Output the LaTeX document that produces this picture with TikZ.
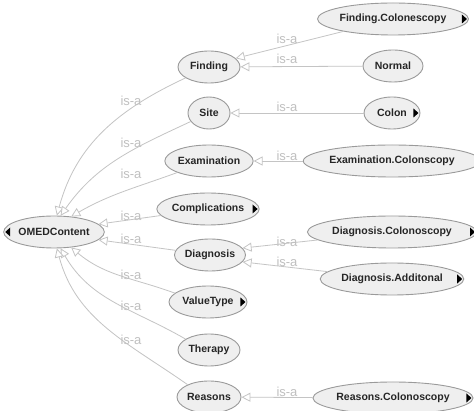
\documentclass[tikz,border=0pt]{standalone}
\usepackage{fontspec}
\setmainfont{Liberation Sans}
\usetikzlibrary{shapes.geometric,arrows.meta}
\definecolor{nodefill}{HTML}{EFEFEF}
\definecolor{nodeline}{HTML}{9A9A9A}
\definecolor{edgecol}{HTML}{C4C4C4}
\definecolor{labcol}{HTML}{C0C0C0}
\tikzset{
  cls/.style={ellipse, draw=nodeline, fill=nodefill, line width=0.9pt, inner sep=0pt,
    minimum height=32, font=\bfseries\fontsize{10.5}{12}\selectfont, text=black!85},
  isa/.style={draw=edgecol, line width=0.8pt, -{Triangle[length=9pt,width=9pt,fill=white]}},
  isalab/.style={text=labcol, font=\fontsize{13}{14}\selectfont, inner sep=0pt},
}
\newcommand\rtri[1]{\fill[black] (#1.east) ++(-7,-4.5) -- ++(5,4.5) -- ++(-5,4.5) -- cycle;}
\newcommand\ltri[1]{\fill[black] (#1.west) ++(7,-4.5) -- ++(-5,4.5) -- ++(5,4.5) -- cycle;}
\begin{document}
\begin{tikzpicture}[x=1pt,y=-1pt]
\useasboundingbox (0,0) rectangle (474,411);
\fill[white] (0,0) rectangle (474,411);
\clip (0,0) rectangle (474,411);

% nodes
\node[cls, minimum width=92] (omed) at (54,232) {OMEDContent};
\node[cls, minimum width=62] (finding) at (209,67) {Finding};
\node[cls, minimum width=42] (site) at (209,113) {Site};
\node[cls, minimum width=82] (exam) at (209,161) {Examination};
\node[cls, minimum width=92] (comp) at (208,209) {Complications};
\node[cls, minimum width=70] (diag) at (210,255) {Diagnosis};
\node[cls, minimum width=78] (vtype) at (208,302) {ValueType};
\node[cls, minimum width=62] (ther) at (209,350) {Therapy};
\node[cls, minimum width=64] (reas) at (209,397) {Reasons};

\node[cls, minimum width=132] (fcol) at (393,19) {Finding.Colonescopy};
\node[cls, minimum width=60] (normal) at (393,66) {Normal};
\node[cls, minimum width=56] (colon) at (392,113) {Colon};
\node[cls, minimum width=153] (ecol) at (392,161) {Examination.Colonscopy};
\node[cls, minimum width=142] (dcol) at (392,232) {Diagnosis.Colonoscopy};
\node[cls, minimum width=124] (dadd) at (392,279) {Diagnosis.Additonal};
\node[cls, minimum width=135] (rcol) at (393,398) {Reasons.Colonoscopy};

% edges to OMEDContent
\draw[isa] (finding.205) to[out=205,in=75] (omed.80);
\draw[isa] (site.205) to[out=205,in=55] (omed.68);
\draw[isa] (exam) to[out=200,in=30] (omed.42);
\draw[isa] (comp) -- (omed.10);
\draw[isa] (diag) -- (omed.-10);
\draw[isa] (vtype.165) to[out=160,in=-40] (omed.-42);
\draw[isa] (ther.155) to[out=150,in=-60] (omed.-68);
\draw[isa] (reas.150) to[out=145,in=-75] (omed.-80);

% edges on the right
\draw[isa] (fcol) -- (finding.18);
\draw[isa] (normal) -- (finding);
\draw[isa] (colon) -- (site);
\draw[isa] (ecol) -- (exam);
\draw[isa] (dcol) -- (diag.12);
\draw[isa] (dadd) -- (diag.-12);
\draw[isa] (rcol) -- (reas);

% labels
\node[isalab] (l1) at (131,101) {is-a};
\node[isalab] (l2) at (131,143) {is-a};
\node[isalab] (l3) at (131,174) {is-a};
\node[isalab] (l4) at (131,216) {is-a};
\node[isalab] (l5) at (131,239) {is-a};
\node[isalab] (l6) at (131,275) {is-a};
\node[isalab] (l7) at (131,306) {is-a};
\node[isalab] (l8) at (131,340) {is-a};
\node[isalab] (r1) at (287,39) {is-a};
\node[isalab] (r2) at (287,59) {is-a};
\node[isalab] (r3) at (287,107) {is-a};
\node[isalab] (r4) at (287,156) {is-a};
\node[isalab] (r5) at (287,242) {is-a};
\node[isalab] (r6) at (287,262) {is-a};
\node[isalab] (r7) at (287,392) {is-a};

% expand markers
\ltri{omed}
\rtri{fcol}
\rtri{colon}
\rtri{ecol}
\rtri{comp}
\rtri{vtype}
\rtri{dcol}
\rtri{dadd}
\rtri{rcol}
\end{tikzpicture}
\end{document}
